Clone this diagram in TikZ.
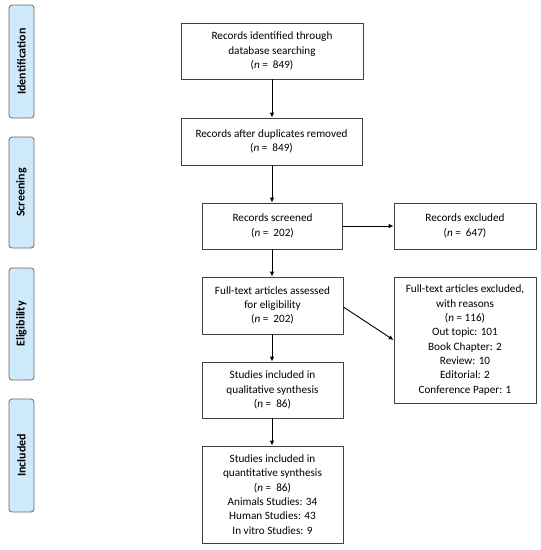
\documentclass[tikz,border=0pt]{standalone}
\usepackage{fontspec}
\setmainfont{Carlito}
\usetikzlibrary{arrows.meta}
\definecolor{phasefill}{HTML}{CFEBFB}
\definecolor{boxline}{HTML}{404040}
\begin{document}
\begin{tikzpicture}[x=1pt,y=-1pt,>={Latex[length=5pt,width=4.5pt]},line join=round,
    font=\fontsize{11.2}{14.3}\selectfont,
    box/.style={draw=boxline,line width=0.8pt,align=center,inner sep=0pt},
    phase/.style={draw=gray!80!black,fill=phasefill,rounded corners=3pt,line width=0.8pt,
        minimum width=25pt,inner sep=0pt},
    phasetext/.style={rotate=90,font=\fontsize{12}{13}\selectfont\bfseries},
    link/.style={->,line width=0.9pt}]
    \useasboundingbox (0,0) rectangle (541,550);
    % phases
    \node[phase,minimum height=113pt] (pid) at (21.5,61.5) {};
    \node[phasetext] at (pid) {Identification};
    \node[phase,minimum height=111pt] (pscr) at (21.5,192.5) {};
    \node[phasetext] at (pscr) {Screening};
    \node[phase,minimum height=112pt] (pelig) at (21.5,324) {};
    \node[phasetext] at (pelig) {Eligibility};
    \node[phase,minimum height=113pt] (pinc) at (21.5,455.5) {};
    \node[phasetext] at (pinc) {Included};
    % boxes
    \node[box,minimum width=182pt,minimum height=56pt] (ident) at (272,51)
        {Records identified through\\database searching\\(\textit{n} =\ \ 849)};
    \node[box,minimum width=181pt,minimum height=47pt] (dupl) at (271.5,141.5)
        {Records after duplicates removed\\(\textit{n} =\ \ 849)};
    \node[box,minimum width=140pt,minimum height=46pt] (screen) at (272.5,226)
        {Records screened\\(\textit{n} =\ \ 202)};
    \node[box,minimum width=142pt,minimum height=46pt] (excl) at (465,226)
        {Records excluded\\(\textit{n} =\ \ 647)};
    \node[box,minimum width=141pt,minimum height=57pt] (full) at (272.5,305.5)
        {Full-text articles assessed\\for eligibility\\(\textit{n} =\ \ 202)};
    \node[box,minimum width=142pt,minimum height=126pt] (fullexcl) at (465,340)
        {Full-text articles excluded,\\with reasons\\(\textit{n} = 116)\\Out topic: 101\\Book Chapter: 2\\Review: 10\\Editorial: 2\\Conference Paper: 1};
    \node[box,minimum width=141pt,minimum height=56pt] (qual) at (272.5,390)
        {Studies included in\\qualitative synthesis\\(\textit{n} =\ \ 86)};
    \node[box,minimum width=141pt,minimum height=97pt] (quant) at (272.5,494.5)
        {Studies included in\\quantitative synthesis\\(\textit{n} =\ \ 86)\\Animals Studies: 34\\Human Studies: 43\\In vitro Studies: 9};
    % arrows
    \draw[link] (ident) -- (ident|-dupl.north);
    \draw[link] (ident|-dupl.south) -- (ident|-screen.north);
    \draw[link] (ident|-screen.south) -- (ident|-full.north);
    \draw[link] (ident|-full.south) -- (ident|-qual.north);
    \draw[link] (ident|-qual.south) -- (ident|-quant.north);
    \draw[link] (screen) -- (excl);
    \draw[link] ([yshift=-1.5pt]full.east) -- (fullexcl.west);
\end{tikzpicture}
\end{document}
